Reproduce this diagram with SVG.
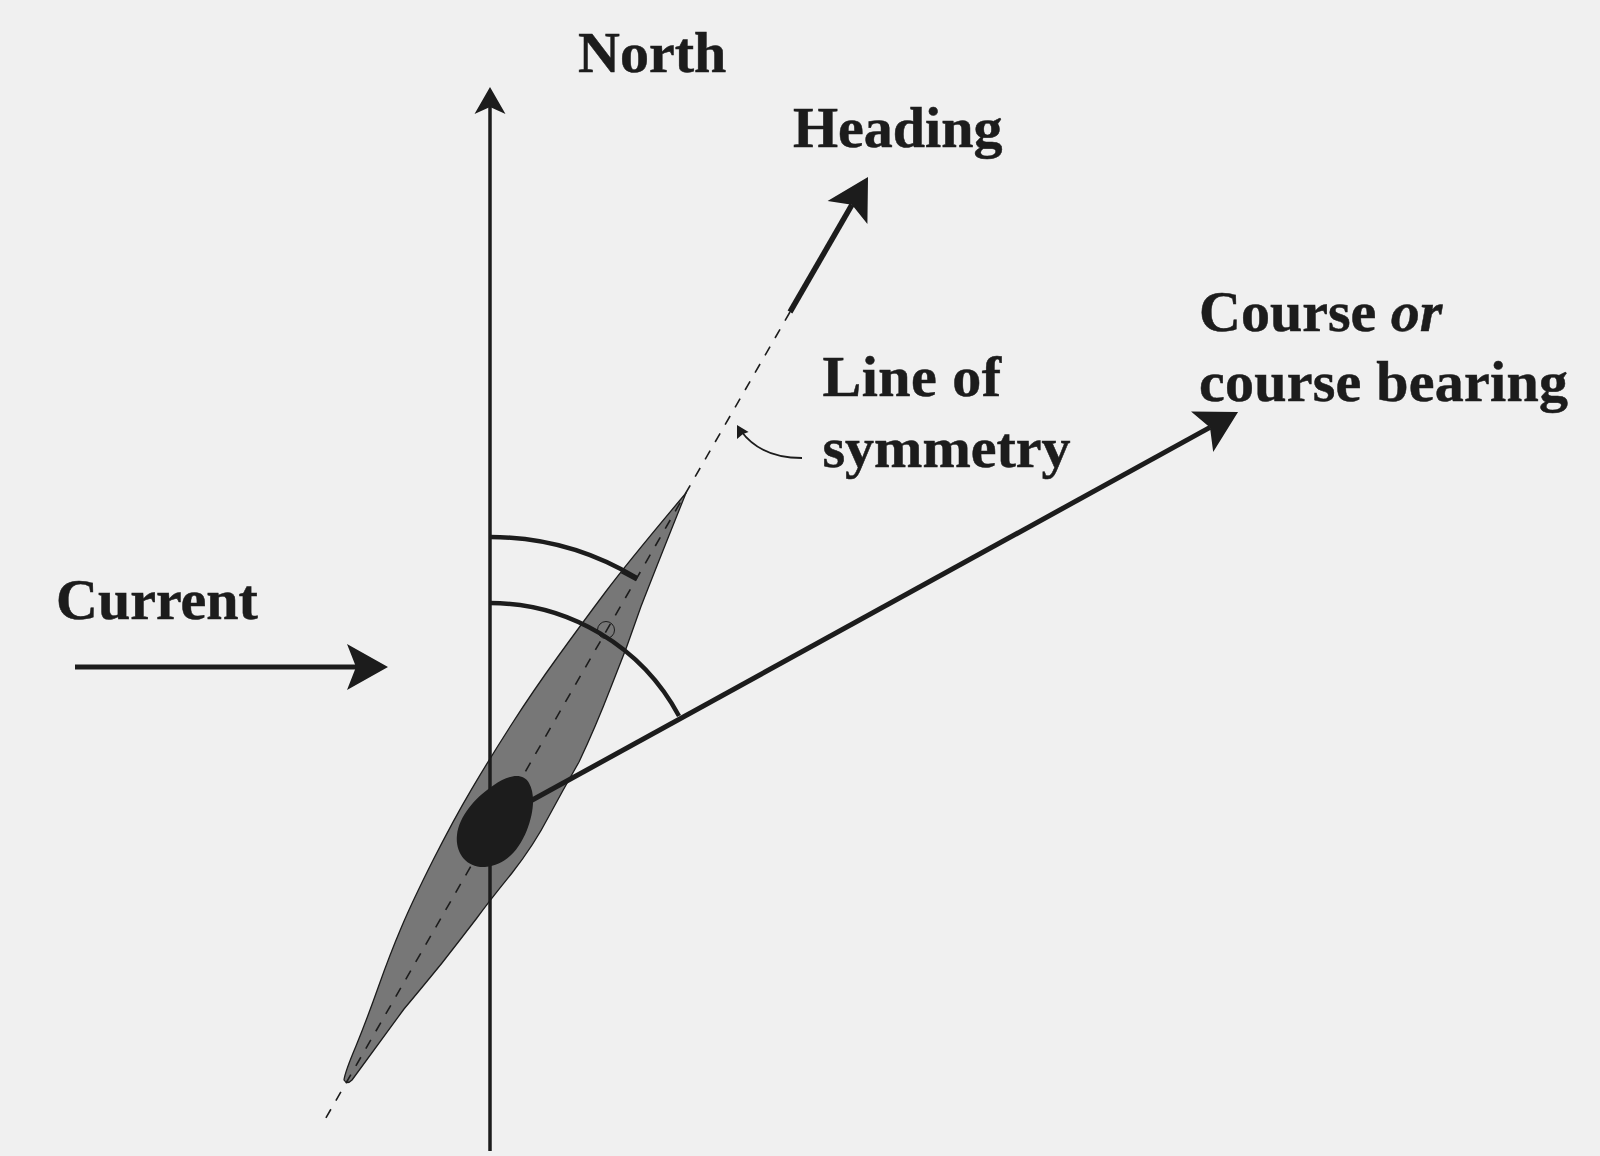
<svg xmlns="http://www.w3.org/2000/svg" width="1600" height="1156" viewBox="0 0 1600 1156">
<style>
.lbl{font-family:"Liberation Serif","Times New Roman",serif;font-weight:700;font-size:58px;fill:#1c1c1c;stroke:#1c1c1c;stroke-width:.5px}
.ln{fill:none;stroke:#1c1c1c;stroke-linecap:butt}
.ink{fill:#1c1c1c}
</style>
<defs>
<marker id="headL" markerUnits="userSpaceOnUse" markerWidth="42" markerHeight="47" refX="9" refY="23" orient="auto" overflow="visible"><path class="ink" d="M0 0L41 23L0 46L9 23Z"/></marker>
<marker id="headS" markerUnits="userSpaceOnUse" markerWidth="28" markerHeight="32" refX="7" refY="15.500" orient="auto" overflow="visible"><path class="ink" d="M0 0L27 15.500L0 31L7 15.500Z"/></marker>
</defs>
<rect width="1600" height="1156" fill="#f0f0f0"/>
<g id="kayak">
<path d="M686 493Q656.700 566 640.800 607Q627 648 611 687Q596 726 579 762Q563 790 549 816Q534 845 512 873Q490 900 476.500 918.500Q460 940 442 963Q420 990 404 1009L352 1080Q347 1085 344 1080Q345 1072 356 1046Q367 1019 378.500 986.500Q390 954 401.500 927Q413 900 433 860.300Q453 820.600 471.500 789.300Q490 758 511.500 724.500Q533 691 558 656.500Q583 622 605.500 592Q628 562 686 493Z" fill="#777" stroke="#1c1c1c" stroke-width="1.300" stroke-linejoin="round"/>
</g>
<g id="connectors">
<path class="ln" d="M790 312L323 1123" stroke-width="1.600" stroke-dasharray="10 10"/>
<path class="ln" d="M490 1151V107" stroke-width="3.500" marker-end="url(#headS)"/>
<path class="ln" d="M75 667H356" stroke-width="5" marker-end="url(#headL)"/>
<path class="ln" d="M790 312L852 204.700" stroke-width="5.500" marker-end="url(#headL)"/>
<path class="ln" d="M525 804L1210 427.400" stroke-width="5" marker-end="url(#headL)"/>
<path class="ln" d="M802 458C775 458 755 450 741 431" stroke-width="1.800"/>
<path class="ink" d="M737 425L748.600 432L743 434L737 439Z"/>
</g>
<g id="angle-marks">
<path class="ln" d="M490 537A283 283 0 0 1 636.700 578" stroke-width="4.500"/>
<path class="ln" d="M622 571L637 579" stroke-width="5"/>
<circle cx="606" cy="630" r="8.500" fill="none" stroke="#1c1c1c" stroke-width="1"/>
<path class="ln" d="M490 603A214.500 214.500 0 0 1 679 716" stroke-width="4.500"/>
</g>
<g id="paddler">
<path class="ink" d="M529 783C536 795 533 815 527 830C518 852 505 865 485 867C466 868 455 852 457 835C459 817 474 798 494 785C508 775 523 772 529 783Z"/>
</g>
<g id="label-north"><text class="lbl" x="578" y="71.700">North</text></g>
<g id="label-heading"><text class="lbl" x="793" y="147">Heading</text></g>
<g id="label-course"><text class="lbl" x="1199" y="330.700">Course <tspan font-style="italic">or</tspan></text><text class="lbl" x="1199" y="400.700" letter-spacing=".25">course bearing</text></g>
<g id="label-symmetry"><text class="lbl" x="822.500" y="395.700" letter-spacing=".5">Line of</text><text class="lbl" x="822.500" y="467">symmetry</text></g>
<g id="label-current"><text class="lbl" x="56" y="619">Current</text></g>
</svg>
